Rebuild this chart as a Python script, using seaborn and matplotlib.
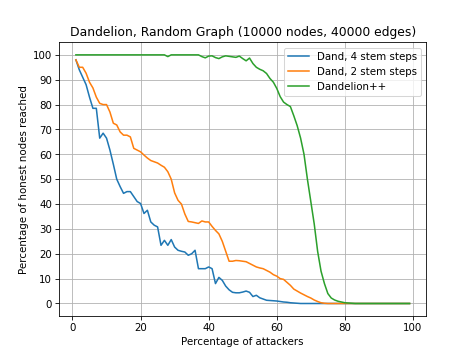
import numpy as np
import pandas as pd
import matplotlib
matplotlib.use("Agg")
import matplotlib.pyplot as plt
import seaborn as sns

# percentage of attackers
attackers = list(range(1, 100))

# Dand, 4 stem steps
stem4 = [98, 94, 91, 88, 83, 78.5, 78.5, 66.5, 68.5, 66.5,
         61.7, 56, 50, 47, 44.3, 45, 45, 43, 41, 40.2,
         36.2, 37.5, 32.8, 31.5, 30.8, 23.4, 25.4, 23.4, 25.7, 22.7,
         21.4, 21, 20.7, 19.4, 20, 21.4, 14, 14, 14, 14.7,
         14, 8, 10.5, 9.3, 7, 5.5, 4.5, 4.3, 4.3, 4.6,
         5, 4.5, 2.8, 3.3, 2.3, 1.8, 1.3, 1.2, 1.1, 1.0,
         0.8, 0.6, 0.5, 0.3, 0.2, 0.1] + [0] * 33

# Dand, 2 stem steps
stem2 = [98, 95, 95, 92.6, 89, 86.7, 83, 80.5, 80, 80,
         77, 72.5, 71.8, 69, 67.7, 67.7, 67, 62.4, 61.7, 61,
         59.7, 58.5, 57.5, 57, 56.5, 55.6, 54.8, 53, 50, 44.5,
         41.5, 40, 36, 33, 32.8, 32.5, 32.2, 33.2, 32.8, 32.8,
         31, 29.4, 28, 25, 21, 17, 17, 17.3, 17.2, 17,
         16.8, 16.1, 15.4, 14.7, 14.3, 14, 13.3, 12.6, 11.6, 11,
         10, 9.7, 8.5, 7.3, 5.8, 5, 4.2, 3.5, 2.8, 2.2,
         1.4, 0.8, 0.3, 0.1] + [0] * 25

# Dandelion++
dpp = [100] * 27 + [99.3] + [100] * 9 + [
    99.3, 98.8, 99.5, 99.6, 98.9, 98.5, 99.2, 99.6, 99.4, 99.2,
    99, 99.5, 98.5, 97.6, 98.7, 96.5, 95, 94.2, 93.6, 92.5,
    90.5, 89, 86.5, 83.2, 81, 80, 79.2, 75.5, 71.5, 66.5,
    60, 50, 41, 32, 21, 13, 8, 4, 2.2, 1.4,
    0.9, 0.6, 0.3, 0.2, 0.1] + [0] * 17

df = pd.DataFrame({"x": attackers, "stem4": stem4, "stem2": stem2, "dpp": dpp})

fig, ax = plt.subplots(figsize=(6.4, 4.8), dpi=74)
sns.lineplot(data=df, x="x", y="stem4", ax=ax, color="#1f77b4", label="Dand, 4 stem steps")
sns.lineplot(data=df, x="x", y="stem2", ax=ax, color="#ff7f0e", label="Dand, 2 stem steps")
sns.lineplot(data=df, x="x", y="dpp", ax=ax, color="#2ca02c", label="Dandelion++")

ax.grid(True)
ax.set_yticks(np.arange(0, 101, 10))
ax.set_xlabel("Percentage of attackers")
ax.set_ylabel("Percentage of honest nodes reached")
ax.set_title("Dandelion, Random Graph (10000 nodes, 40000 edges)")
ax.legend(loc="upper right")

plt.savefig("out.png", dpi=74)
